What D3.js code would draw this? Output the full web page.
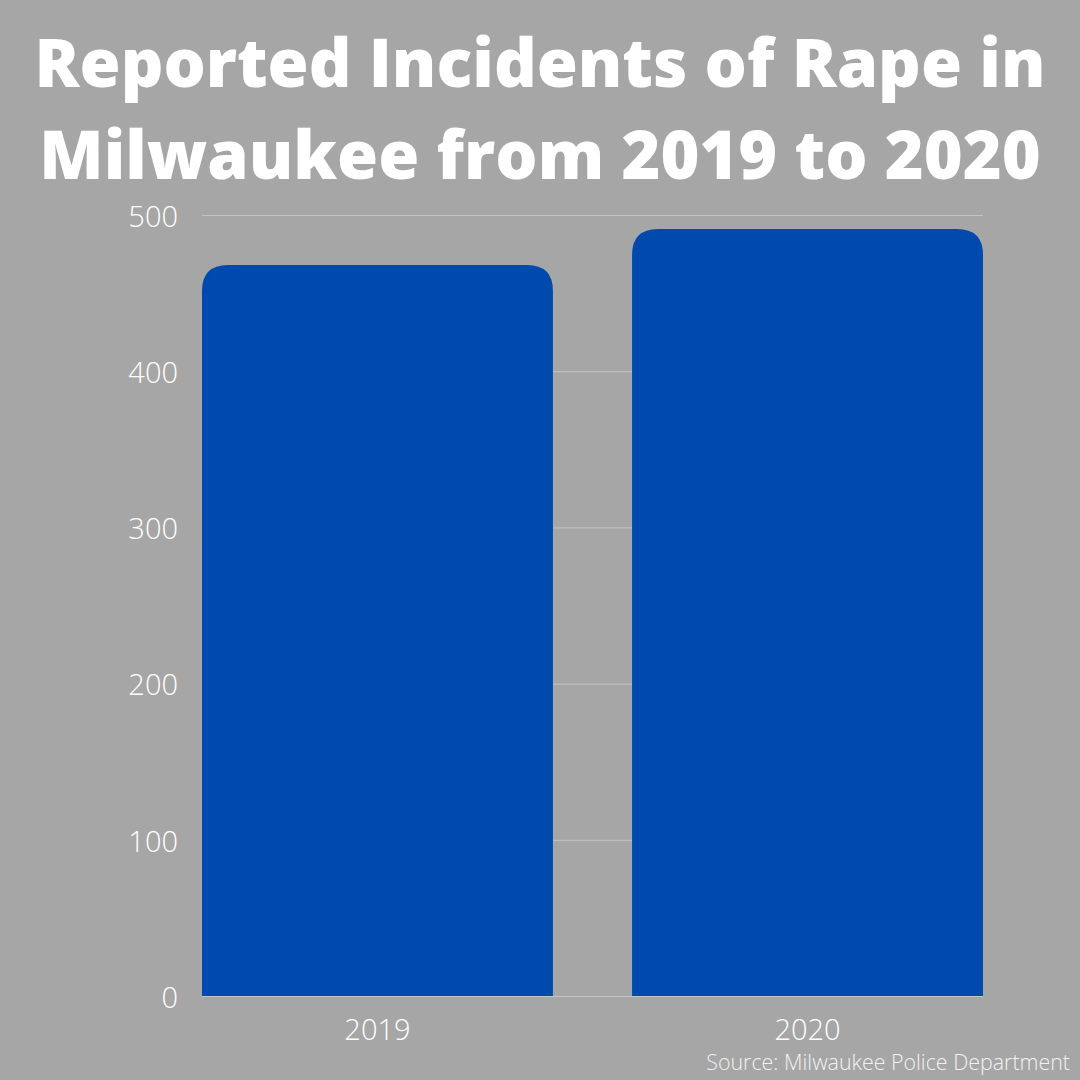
<!DOCTYPE html>
<html>
<head>
<meta charset="utf-8">
<script src="https://cdn.jsdelivr.net/npm/d3@7"></script>
<style>
  html, body { margin: 0; padding: 0; background: #a6a6a6; }
  svg { display: block; }
</style>
</head>
<body>
<div id="chart"></div>
<script>
// chart data
const years = ["2019", "2020"];
const incidents = [468, 491];
const yTicks = [0, 100, 200, 300, 400, 500];
const titleLines = ["Reported Incidents of Rape in", "Milwaukee from 2019 to 2020"];
const sourceText = "Source: Milwaukee Police Department";

const width = 1080;
const height = 1080;
const plotLeft = 202;
const plotRight = 983;
const plotTop = 215;
const plotBottom = 996;
const barColor = "#004aad";
const radius = 26;

const svg = d3.select("#chart").append("svg")
    .attr("width", width)
    .attr("height", height);

svg.append("rect")
    .attr("width", width)
    .attr("height", height)
    .attr("fill", "#a6a6a6");

// title
svg.append("g").selectAll("text").data(titleLines).enter().append("text")
    .attr("x", width / 2)
    .attr("y", (d, i) => 87 + i * 92)
    .attr("text-anchor", "middle")
    .attr("fill", "#ffffff")
    .style("font-family", "'Open Sans', sans-serif")
    .style("font-weight", 800)
    .style("font-size", "66.5px")
    .text(d => d);

const x = d3.scaleBand()
    .domain(years)
    .range([plotLeft, plotRight])
    .paddingInner(0.184)
    .paddingOuter(0);

const y = d3.scaleLinear()
    .domain([0, 500])
    .range([plotBottom, plotTop]);

// gridlines
svg.append("g")
    .attr("class", "grid")
    .selectAll("line").data(yTicks).enter().append("line")
    .attr("x1", plotLeft)
    .attr("x2", plotRight)
    .attr("y1", d => y(d) + 0.5)
    .attr("y2", d => y(d) + 0.5)
    .attr("stroke", "#c4c4c4")
    .attr("stroke-width", 1);

// bars with rounded top corners
function barPath(x0, w, yTop, yBot, r) {
    return "M" + x0 + "," + yBot +
        "V" + (yTop + r) +
        "Q" + x0 + "," + yTop + " " + (x0 + r) + "," + yTop +
        "H" + (x0 + w - r) +
        "Q" + (x0 + w) + "," + yTop + " " + (x0 + w) + "," + (yTop + r) +
        "V" + yBot + "Z";
}

svg.append("g").selectAll("path").data(years).enter().append("path")
    .attr("fill", barColor)
    .attr("d", (d, i) => barPath(x(d), x.bandwidth(), y(incidents[i]), y(0), radius));

// y axis labels
const yAxis = svg.append("g")
    .attr("transform", "translate(" + plotLeft + ",2)")
    .call(d3.axisLeft(y).tickValues(yTicks).tickSize(0).tickPadding(24));
yAxis.select(".domain").remove();
yAxis.selectAll("text")
    .attr("fill", "#ffffff")
    .style("font-family", "'Open Sans', sans-serif")
    .style("font-weight", 300)
    .style("font-size", "29px");

// x axis labels
const xAxis = svg.append("g")
    .attr("transform", "translate(0," + plotBottom + ")")
    .call(d3.axisBottom(x).tickSize(0).tickPadding(23));
xAxis.select(".domain").remove();
xAxis.selectAll("text")
    .attr("fill", "#ffffff")
    .style("font-family", "'Open Sans', sans-serif")
    .style("font-weight", 300)
    .style("font-size", "29px");

// source
svg.append("text")
    .attr("x", 1070)
    .attr("y", 1070)
    .attr("text-anchor", "end")
    .attr("fill", "#f2f2f2")
    .style("font-family", "'Open Sans', sans-serif")
    .style("font-weight", 300)
    .style("font-size", "21.4px")
    .text(sourceText);
</script>
</body>
</html>
